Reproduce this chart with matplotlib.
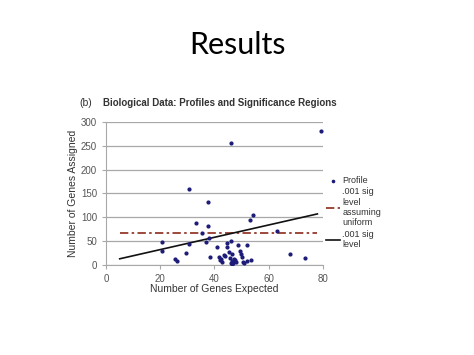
import numpy as np
import matplotlib.pyplot as plt

# profiles: expected vs assigned
expected = [79.4, 46.2, 30.5, 37.5, 33.2, 37.6, 54.3, 53.1, 63.2, 35.4,
            37.9, 37.0, 20.8, 20.8, 30.5, 29.5, 25.6, 26.2, 38.5, 41.0,
            44.6, 46.2, 44.8, 45.5, 46.4, 43.6, 41.8, 42.1, 42.7, 48.6,
            49.5, 49.8, 50.0, 52.0, 53.4, 50.7, 52.0, 68.0, 73.5, 46.0,
            46.5, 47.0, 47.5, 46.3, 47.2, 48.0, 51.0, 45.8, 44.0, 42.5]
assigned = [281, 256, 159, 132, 87, 82, 104, 94, 72, 68,
            56, 49, 49, 29, 45, 26, 12, 9, 16, 38,
            47, 50, 37, 28, 24, 21, 16, 10, 6, 42,
            30, 24, 17, 42, 10, 7, 9, 24, 14, 4,
            8, 5, 10, 3, 12, 7, 5, 14, 18, 13]

# significance lines
sig_x = [5, 78]
sig_y = [13, 107]
uni_x = [5, 78]
uni_y = [67, 67]

txt = '#333333'
plt.rcParams['font.family'] = ['Liberation Sans', 'DejaVu Sans']

fig = plt.figure(figsize=(4.74, 3.55), dpi=100)
fig.text(0.5, 0.873, 'Results', ha='center', va='center', fontsize=22,
         family='Lato', color='black')

ax = fig.add_axes([0.224, 0.2535, 0.457, 0.4035])
ax.scatter(expected, assigned, s=4, color='#1c1c78', label='Profile', zorder=3)
ax.plot(uni_x, uni_y, color='#8b2a1a', linestyle=(0, (5, 2, 1.5, 2)), lw=1.2,
        label='.001 sig\nlevel\nassuming\nuniform')
ax.plot(sig_x, sig_y, color='#111111', lw=1.2, label='.001 sig\nlevel')

ax.set_xlim(0, 80)
ax.set_ylim(0, 300)
ax.set_xticks([0, 20, 40, 60, 80])
ax.set_yticks(range(0, 301, 50))
ax.yaxis.grid(True, color='#a8a8a8', lw=0.9)
ax.set_axisbelow(True)
for s in ['top', 'right']:
    ax.spines[s].set_visible(False)
ax.spines['left'].set_color('#a8a8a8')
ax.spines['bottom'].set_color('#a8a8a8')
ax.tick_params(labelsize=7, colors='#a8a8a8', labelcolor='#555555', length=3)
ax.set_xlabel('Number of Genes Expected', fontsize=7.5, color=txt, labelpad=0)
ax.set_ylabel('Number of Genes Assigned', fontsize=7.5, color=txt, labelpad=2)

ax.legend(loc='upper left', bbox_to_anchor=(0.99, 0.66), frameon=False,
          fontsize=6.5, handlelength=1.6, handletextpad=0.2, labelspacing=0.25,
          borderaxespad=0.2, labelcolor=txt, markerscale=0.8)

fig.text(0.168, 0.71, '(b)', fontsize=7.5, color=txt, va='center')
fig.text(0.217, 0.71, 'Biological Data: Profiles and Significance Regions',
         fontsize=7, fontweight='bold', color=txt, va='center')

fig.savefig('out.png', dpi=100)
